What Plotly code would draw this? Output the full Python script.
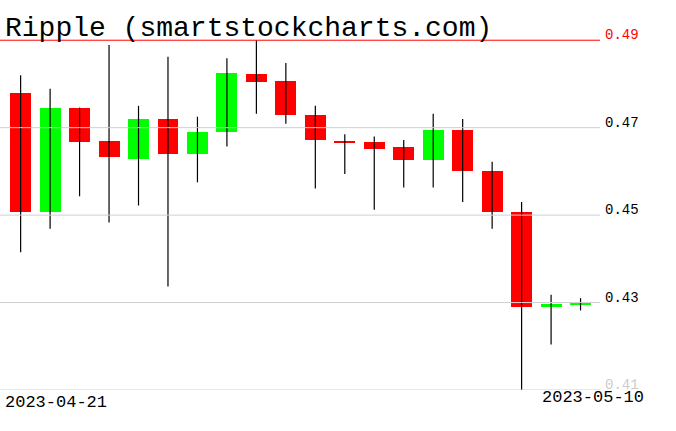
import plotly.graph_objects as go

dates = ["2023-04-21", "2023-04-22", "2023-04-23", "2023-04-24", "2023-04-25",
         "2023-04-26", "2023-04-27", "2023-04-28", "2023-04-29", "2023-04-30",
         "2023-05-01", "2023-05-02", "2023-05-03", "2023-05-04", "2023-05-05",
         "2023-05-06", "2023-05-07", "2023-05-08", "2023-05-09", "2023-05-10"]
opens = [0.4780, 0.4506, 0.4745, 0.4670, 0.4629, 0.4720, 0.4639, 0.4689, 0.4823, 0.4807,
         0.4729, 0.4670, 0.4668, 0.4656, 0.4627, 0.4695, 0.4601, 0.4508, 0.4289, 0.4295]
highs = [0.4820, 0.4789, 0.4746, 0.4889, 0.4750, 0.4862, 0.4725, 0.4859, 0.4900, 0.4848,
         0.4750, 0.4685, 0.4680, 0.4672, 0.4732, 0.4720, 0.4622, 0.4530, 0.4318, 0.4310]
lows = [0.4415, 0.4469, 0.4543, 0.4483, 0.4522, 0.4337, 0.4575, 0.4657, 0.4732, 0.4709,
        0.4561, 0.4594, 0.4512, 0.4563, 0.4563, 0.4530, 0.4469, 0.4100, 0.4204, 0.4282]
closes = [0.4506, 0.4745, 0.4668, 0.4632, 0.4720, 0.4639, 0.4690, 0.4825, 0.4805, 0.4728,
          0.4671, 0.4666, 0.4652, 0.4627, 0.4695, 0.4600, 0.4506, 0.4289, 0.4297, 0.4299]
yticks = [0.41, 0.43, 0.45, 0.47, 0.49]
title = "Ripple (smartstockcharts.com)"

n = len(dates)
xs = list(range(n))
base = [min(o, c) for o, c in zip(opens, closes)]
height = [max(abs(c - o), 0.00025) for o, c in zip(opens, closes)]
colors = ["#00ff00" if c >= o else "#ff0000" for o, c in zip(opens, closes)]

# wicks as one line trace with gaps
wx, wy = [], []
for i in xs:
    wx += [i, i, None]
    wy += [lows[i], highs[i], None]

fig = go.Figure()
fig.add_trace(go.Bar(x=xs, y=height, base=base, marker=dict(color=colors, line=dict(width=0)),
                     width=0.71, hoverinfo="skip"))
fig.add_trace(go.Scatter(x=wx, y=wy, mode="lines", line=dict(color="black", width=1.2),
                         hoverinfo="skip"))

mono = "Liberation Mono"
for v in yticks:
    top = v == max(yticks)
    fig.add_hline(y=v, line=dict(color="#ff0000" if top else "#d0d0d0", width=1), layer="above")
    fig.add_annotation(x=1, xref="paper", y=v, yref="y", xanchor="left", yanchor="middle",
                       xshift=3, yshift=5, showarrow=False, text="%.2f" % v,
                       font=dict(family=mono, size=14,
                                 color="#ff0000" if top else ("#cccccc" if v == min(yticks) else "black")))

fig.add_annotation(x=0, xref="paper", y=1, yref="paper", xanchor="left", yanchor="top",
                   xshift=3, yshift=-11, showarrow=False, text=title,
                   font=dict(family=mono, size=28, color="black"))
fig.add_annotation(x=0, xref="paper", y=0, yref="paper", xanchor="left", yanchor="top",
                   xshift=3, yshift=-1, showarrow=False, text=dates[0],
                   font=dict(family=mono, size=17, color="black"))
fig.add_annotation(x=1, xref="paper", y=0, yref="paper", xanchor="center", yanchor="top",
                   xshift=-7, yshift=4, showarrow=False, text=dates[-1],
                   font=dict(family=mono, size=17, color="black"))

fig.update_layout(
    width=676, height=431,
    margin=dict(l=0, r=76, t=0, b=41),
    paper_bgcolor="white", plot_bgcolor="white",
    showlegend=False, bargap=0,
    xaxis=dict(range=[-0.7, 19.66], showgrid=False, zeroline=False, showticklabels=False,
               fixedrange=True),
    yaxis=dict(range=[0.41, 0.4992], showgrid=False, zeroline=False, showticklabels=False,
               fixedrange=True),
)

fig.write_html("out.html", config={"displayModeBar": False},
               post_script="document.body.style.margin='0';")
